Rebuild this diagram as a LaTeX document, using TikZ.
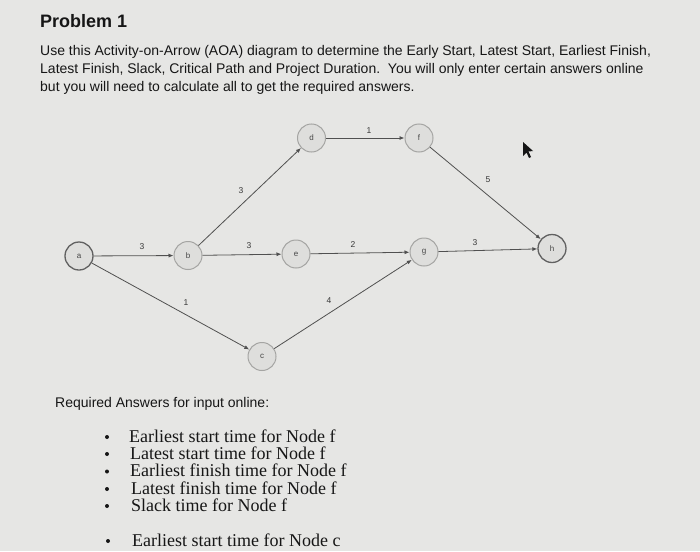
\documentclass[tikz,border=0pt]{standalone}
\usepackage{fontspec}
\setmainfont{Liberation Serif}
\setsansfont{Liberation Sans}
\usetikzlibrary{arrows.meta}
\definecolor{bg}{RGB}{230,230,228}
\definecolor{ink}{RGB}{22,22,22}
\definecolor{nodefill}{RGB}{222,222,220}
\definecolor{nodeline}{RGB}{165,165,163}
\definecolor{edge}{RGB}{80,80,80}
\tikzset{
  ev/.style={circle,draw=nodeline,fill=nodefill,line width=1pt,minimum size=28pt,inner sep=0pt,font=\sffamily\fontsize{8}{9}\selectfont,text=ink!80},
  evend/.style={ev,draw=edge!90,line width=1.3pt},
  act/.style={draw=edge,line width=0.8pt,-{Latex[length=5pt,width=4pt]}},
  dur/.style={font=\sffamily\fontsize{8.5}{10}\selectfont,text=ink!85,inner sep=1pt},
  txt/.style={anchor=base west,inner sep=0pt,text=ink,font=\sffamily\fontsize{14}{16}\selectfont},
  item/.style={anchor=base west,inner sep=0pt,text=ink,font=\rmfamily\fontsize{18}{20}\selectfont},
  dot/.style={circle,fill=ink,inner sep=0pt,minimum size=4pt}
}
\begin{document}
\begin{tikzpicture}[x=1pt,y=-1pt]
\fill[bg] (0,0) rectangle (700,551);
\useasboundingbox (0,0) rectangle (700,551);

\node[txt,font=\sffamily\bfseries\fontsize{18}{20}\selectfont] (title) at (40,27.5) {Problem 1};
\node[txt] (p1) at (40,56) {Use this Activity-on-Arrow (AOA) diagram to determine the Early Start, Latest Start, Earliest Finish,};
\node[txt] (p2) at (40,73.5) {Latest Finish, Slack, Critical Path and Project Duration.\ \ You will only enter certain answers online};
\node[txt] (p3) at (40,91) {but you will need to calculate all to get the required answers.};

% events
\node[evend] (a) at (79,256) {a};
\node[ev] (b) at (188,255.5) {b};
\node[ev] (d) at (311.5,138) {d};
\node[ev] (e) at (296,254) {e};
\node[ev] (c) at (262,356.5) {c};
\node[ev] (f) at (419,138) {f};
\node[ev] (g) at (424,252) {g};
\node[evend] (h) at (552,248.5) {h};

% activities
\draw[act] (a) -- (b);
\draw[act] (b) -- (d);
\draw[act] (b) -- (e);
\draw[act] (a) -- (c);
\draw[act] (d) -- (f);
\draw[act] (e) -- (g);
\draw[act] (c) -- (g);
\draw[act] (f) -- (h);
\draw[act] (g) -- (h);

\node[dur] (lab) at (142,247) {3};
\node[dur] (lbd) at (241,191) {3};
\node[dur] (lbe) at (249,246) {3};
\node[dur] (lac) at (186,303) {1};
\node[dur] (ldf) at (369,131) {1};
\node[dur] (leg) at (353,245) {2};
\node[dur] (lcg) at (329,301) {4};
\node[dur] (lfh) at (488,180) {5};
\node[dur] (lgh) at (475,243) {3};

% mouse pointer
\fill[ink] (523,142) -- (523,156) -- (526.5,152.5) -- (529,158) -- (531,157) -- (528.5,151.5) -- (533,151) -- cycle;

\node[txt] (req) at (55,407) {Required Answers for input online:};

\node[dot] (b1) at (107,437) {};
\node[item] (i1) at (129,442) {Earliest start time for Node f};
\node[dot] (b2) at (107,454) {};
\node[item] (i2) at (130,459) {Latest start time for Node f};
\node[dot] (b3) at (107,471.5) {};
\node[item] (i3) at (130,476.5) {Earliest finish time for Node f};
\node[dot] (b4) at (107,489) {};
\node[item] (i4) at (131,494) {Latest finish time for Node f};
\node[dot] (b5) at (107,506) {};
\node[item] (i5) at (131,511) {Slack time for Node f};
\node[dot] (b6) at (108,541) {};
\node[item] (i6) at (132,546) {Earliest start time for Node c};
\end{tikzpicture}
\end{document}
